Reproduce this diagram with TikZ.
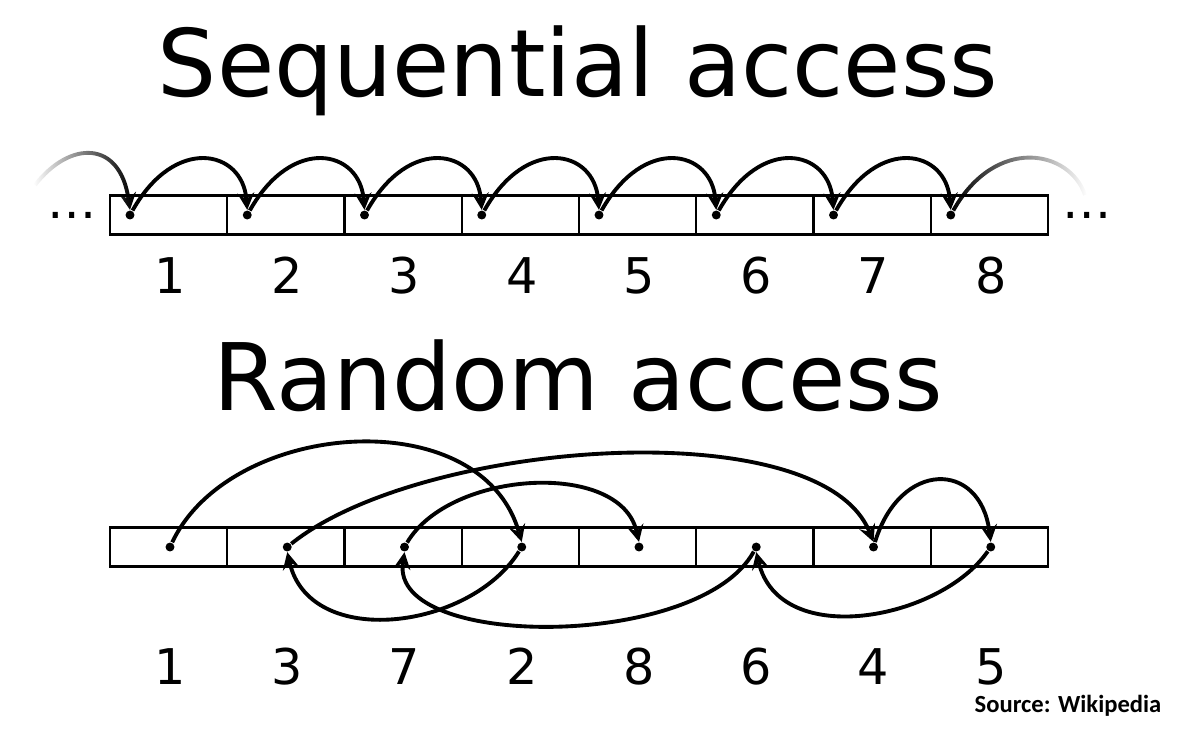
\documentclass[tikz,border=0pt]{standalone}
\usepackage{fontspec}
\setmainfont{DejaVu Sans}
\newfontfamily\srcfont{Carlito}
\usetikzlibrary{positioning,fadings}
\tikzset{
    cell/.style = {
        draw, rectangle,
        minimum width  = 117.25*0.01cm,
        minimum height = 0.39cm,
        inner sep = 0pt,
        line width = 0.7pt,
    },
    spot/.style = {
        circle, fill = black,
        inner sep = 0.9pt,
    },
    hop/.style = {->, line width = 1.1pt, >=stealth},
    num/.style = {anchor=base, font=\fontsize{14}{16}\selectfont},
    headline/.style = {anchor=base, font=\fontsize{26.5}{30}\selectfont},
}

\begin{document}
\begin{tikzpicture}[x=0.01cm,y=-0.01cm]
    \useasboundingbox (0,0) rectangle (1200,741);

    \node[headline] (SeqTitle) at (578,96) {Sequential access};
    \node[headline] (RandTitle) at (578,410) {Random access};

    % sequential row
    \foreach \i in {1,...,8} {
        \node[cell] (s\i) at ({110+117.25*(\i-0.5)},215) {};
        \node[spot] (sd\i) at ({130+117.25*(\i-1)},215) {};
        \node[num] (sn\i) at ({170+117.25*(\i-1)},293) {\i};
    }
    \node[num] (LDots) at (72,218) {\dots};
    \node[num] (RDots) at (1087,218) {\dots};
    \coordinate (InStart) at (35,185);
    \coordinate (OutEnd) at (1085,195);

    \draw[hop,path fading=west] (InStart) .. controls (70,140) and (120,140) .. (sd1.north);
    \foreach \i [evaluate=\i as \j using int(\i+1)] in {1,...,7} {
        \draw[hop] (sd\i) .. controls ++(45,-80) and ++(-5,-60) .. (sd\j.north);
    }
    \draw[hop,-,path fading=east] (sd8) .. controls ++(45,-80) and (1070,150) .. (OutEnd);

    % random row
    \foreach \i/\n in {1/1,2/3,3/7,4/2,5/8,6/6,7/4,8/5} {
        \node[cell] (r\i) at ({110+117.25*(\i-0.5)},547) {};
        \node[spot] (rd\i) at ({170+117.25*(\i-1)},547) {};
        \node[num] (rn\i) at ({170+117.25*(\i-1)},684) {\n};
    }

    \draw[hop] (rd1) .. controls (230,420) and (480,400) .. (rd4.north);
    \draw[hop] (rd4) .. controls (470,630) and (310,650) .. (rd2.south);
    \draw[hop] (rd2) .. controls (420,440) and (820,410) .. (rd7.north);
    \draw[hop] (rd7) .. controls (900,460) and (980,460) .. (rd8.north);
    \draw[hop] (rd8) .. controls (940,620) and (780,650) .. (rd6.south);
    \draw[hop] (rd6) .. controls (700,650) and (390,650) .. (rd3.south);
    \draw[hop] (rd3) .. controls (450,470) and (620,460) .. (rd5.north);

    \node[font=\srcfont\bfseries\fontsize{7}{8}\selectfont] (Source) at (1068,706) {Source: Wikipedia};
\end{tikzpicture}
\end{document}
